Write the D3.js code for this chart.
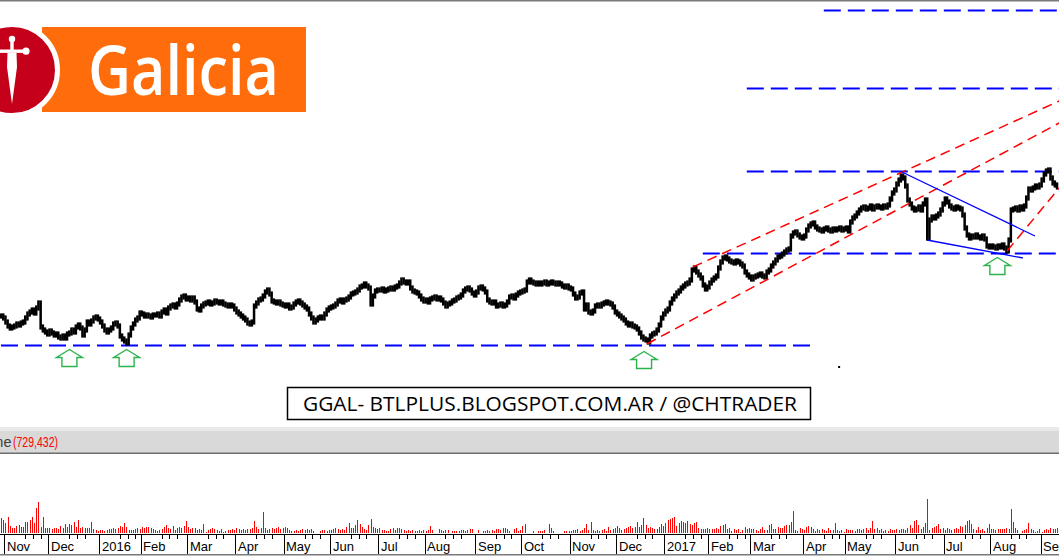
<!DOCTYPE html>
<meta charset="utf-8">
<style>
body { margin: 0; background: #fff; }
svg { display: block; }
.axis text { font: 13px "Liberation Sans", Arial, sans-serif; fill: #000; }
</style>
<svg width="1059" height="556"></svg>
<script src="https://cdn.jsdelivr.net/npm/d3@7"></script>
<script>

// daily closes, Oct 2015 - Sep 2017
var closes = [
  32.9,32.7,32.3,31.9,31.7,31.8,31.9,32.1,32.0,32.2,
  32.3,32.7,33.1,33.3,33.5,33.2,33.7,34.2,31.8,31.5,
  31.3,31.1,31.4,31.2,31.0,31.1,30.8,30.7,30.9,30.7,
  31.1,31.2,31.5,31.3,31.8,32.0,31.7,31.0,31.5,32.3,
  32.1,32.4,32.7,32.8,32.6,32.3,31.9,31.5,31.3,31.5,
  31.7,32.1,32.2,31.9,30.9,30.6,30.4,30.2,31.0,31.7,
  32.1,32.5,32.7,33.2,33.1,32.9,33.0,32.9,32.8,33.0,
  33.0,33.1,32.9,33.3,33.5,33.2,33.7,33.9,34.0,33.8,
  34.1,34.5,34.8,34.9,34.6,34.7,34.5,34.7,34.3,33.6,
  33.5,33.9,34.1,34.2,34.3,34.1,34.2,34.4,34.3,34.2,
  34.3,34.1,34.0,33.9,34.0,33.9,33.6,33.3,33.1,32.9,
  32.7,32.5,32.2,32.1,32.3,33.9,34.2,34.5,34.6,34.9,
  35.3,35.5,35.1,34.4,34.3,34.2,34.3,34.1,34.0,33.9,
  34.0,33.7,33.8,34.1,34.3,34.4,34.2,34.0,33.8,33.6,
  33.1,32.7,32.3,32.5,32.7,32.8,32.7,33.1,33.5,33.7,
  33.8,33.9,34.1,34.4,34.5,34.3,34.5,34.6,34.8,35.1,
  35.2,35.3,35.5,35.8,35.9,36.1,35.9,35.7,34.1,34.9,
  35.4,35.5,35.5,35.6,35.4,35.5,35.6,35.7,35.6,35.8,
  35.9,36.2,36.5,36.3,36.2,36.3,35.7,35.4,35.3,35.2,
  34.9,34.6,34.4,34.5,34.3,34.6,34.7,34.8,34.6,34.7,
  34.5,34.2,33.9,34.1,34.2,34.4,34.5,34.7,34.8,35.0,
  35.4,35.6,35.7,35.5,35.2,35.0,35.3,35.7,35.8,35.6,
  35.3,34.5,34.3,34.2,34.3,33.9,34.0,34.1,33.9,34.0,
  34.3,34.8,34.9,34.7,35.0,35.2,35.3,35.4,35.5,36.3,
  36.5,36.3,36.2,36.1,36.2,36.1,36.2,36.3,36.1,36.2,
  36.3,36.2,36.1,36.2,36.1,35.9,35.8,35.9,35.7,35.6,
  35.1,34.7,34.8,35.2,35.3,33.6,34.0,33.3,33.2,33.4,
  33.9,34.0,33.9,34.1,34.2,34.3,34.2,34.1,33.8,33.3,
  33.1,32.9,32.7,32.5,32.2,32.0,32.1,31.9,31.8,31.6,
  31.2,30.8,30.6,30.5,30.3,30.9,31.1,31.2,31.5,32.0,
  32.7,33.1,33.4,33.6,34.2,34.6,34.9,35.2,35.4,35.7,
  35.9,36.1,36.2,36.5,37.5,37.7,37.3,37.0,36.7,36.0,
  35.6,35.8,36.2,36.5,36.7,36.9,37.7,38.3,38.7,38.8,
  38.6,38.4,38.3,38.2,38.4,38.3,38.1,37.9,37.3,37.0,
  36.8,36.6,36.8,36.9,37.0,37.1,36.9,36.8,37.3,37.5,
  37.9,38.2,38.5,38.8,38.9,39.1,39.3,39.5,39.6,40.9,
  41.2,41.3,41.0,40.8,40.7,40.9,41.5,41.9,42.1,42.2,
  41.8,41.6,41.5,41.4,41.6,41.7,41.5,41.4,41.6,41.5,
  41.6,41.7,41.5,41.6,41.7,41.4,42.3,42.7,42.9,43.2,
  43.5,43.7,43.8,43.6,43.7,43.9,43.6,43.8,43.9,43.8,
  43.7,43.9,43.8,44.0,44.6,45.2,45.5,46.1,46.5,46.9,
  46.7,45.9,44.5,44.1,43.7,43.5,43.6,43.8,43.5,44.1,
  44.5,40.7,42.5,42.8,42.7,42.9,43.1,43.5,44.1,44.6,
  44.3,43.9,43.7,43.6,43.8,43.7,43.6,43.0,41.7,41.0,
  40.7,40.9,40.8,41.0,40.8,40.7,40.9,40.6,39.9,39.8,
  39.9,39.8,39.7,39.9,39.8,40.0,39.7,39.4,40.5,43.5,
  43.6,43.7,43.5,43.8,43.6,43.9,44.7,45.6,45.5,45.7,
  45.9,45.8,46.0,46.5,47.1,47.4,47.5,46.7,46.2,46.0,
  45.8
];

// daily volume, thousands of shares
var volumes = [
  2250,1950,1500,2400,1050,750,750,1050,1200,900,
  900,1650,1650,1950,2400,1500,3750,4650,900,2400,
  750,750,750,600,750,750,600,1050,750,1350,
  900,1350,1200,1650,900,1950,750,900,750,750,
  750,1650,600,450,300,450,450,300,450,600,
  600,750,600,750,1050,900,1500,900,450,450,
  450,600,750,600,900,750,900,900,750,600,
  450,300,450,600,900,1200,750,600,1050,450,
  750,900,750,1050,1800,900,600,750,750,450,
  600,450,1350,150,450,600,750,600,450,300,
  600,150,300,450,450,600,450,750,600,450,
  600,450,600,600,750,1800,900,600,750,3150,
  750,450,600,750,600,750,900,600,750,900,
  750,450,300,300,450,300,450,600,450,600,
  450,600,300,0,0,300,450,450,300,450,
  450,600,750,600,450,600,450,900,1500,750,
  750,1200,1950,1350,900,600,450,1200,2100,900,
  750,600,750,450,450,300,300,600,750,450,
  750,750,600,450,300,450,300,450,300,300,
  450,300,450,300,450,1050,450,0,0,600,
  450,300,450,450,0,300,300,300,300,450,
  450,300,450,600,600,0,0,450,0,300,
  300,450,300,450,300,600,600,450,750,750,
  600,300,0,600,750,300,450,1050,1350,0,
  0,0,300,0,300,300,300,450,0,1350,
  750,300,0,0,0,0,300,300,300,300,
  450,450,600,300,450,750,1350,450,1650,450,
  300,450,300,450,600,300,900,450,600,750,
  1050,750,450,600,750,900,1050,750,900,1650,
  900,1200,2250,1200,750,900,750,600,600,900,
  1350,1050,1500,1950,2100,2250,2400,1050,1500,1800,
  1650,1500,1800,1350,1200,1500,1650,750,600,600,
  600,750,600,600,600,750,600,1050,1200,1350,
  600,750,300,600,450,600,150,450,900,600,
  750,600,600,450,300,600,900,450,450,1200,
  1350,600,600,900,750,750,1050,1200,1200,1650,
  3300,450,300,750,600,450,900,1050,900,600,
  300,600,450,600,450,300,750,450,450,1500,
  450,300,450,150,600,450,450,450,300,600,
  600,450,600,750,450,750,1800,600,750,450,
  600,300,450,300,600,450,450,600,450,600,
  600,450,750,1200,750,1800,1950,1200,600,900,
  1500,5100,450,750,900,1050,1350,600,750,450,
  750,600,450,600,750,600,1050,900,1200,1800,
  1950,1350,600,450,900,450,600,300,750,1350,
  600,600,450,600,600,600,600,750,600,3600,
  1650,750,450,0,300,450,600,1500,600,450,
  150,300,600,150,450,600,450,750,600,600,
  729.432
];

var monthLabels = ["Nov","Dec","2016","Feb","Mar","Apr","May","Jun","Jul","Aug","Sep","Oct",
                   "Nov","Dec","2017","Feb","Mar","Apr","May","Jun","Jul","Aug","Sep"];
var monthStarts = [2,22,45,64,85,107,129,150,172,193,216,237,259,280,302,322,341,365,384,407,429,450,473];

// horizontal support / resistance levels: price, first bar, last bar
var levelPrices = [30.0, 39.2, 47.4, 55.7, 63.5];
var levelFrom   = [0, 319, 339, 339, 374];
var levelTo     = [369, 481, 481, 481, 481];

// trend lines: [bar0, price0, bar1, price1]
var redLines  = [[314.5, 37.8, 481, 54.4], [293.6, 30.1, 481, 52.2], [457.3, 39.4, 481, 45.7]];
var blueLines = [[409.5, 47.3, 470, 40.9], [420.9, 40.5, 464.5, 38.7]];

// up arrows under the lows: bar, price of the tip
var arrowBars   = [31.1, 57.1, 292.3, 452.9];
var arrowPrices = [29.55, 29.55, 29.35, 38.75];

var svg = d3.select("svg");

var x  = d3.scaleLinear().domain([0, 480]).range([1, 1057]);
var y  = d3.scaleLinear().domain([30, 64.5]).range([345, 0]);
var yv = d3.scaleLinear().domain([0, 11700]).range([533, 455]);

// top frame line
svg.append("rect").attr("x", 0).attr("y", 0).attr("width", 1059).attr("height", 1.5).attr("fill", "#7a7a7a");

// dashed levels
svg.append("g").selectAll("line")
  .data(levelPrices)
  .join("line")
    .attr("x1", function(d, i) { return x(levelFrom[i]); })
    .attr("x2", function(d, i) { return x(levelTo[i]); })
    .attr("y1", function(d) { return Math.round(y(d)) + 0.5; })
    .attr("y2", function(d) { return Math.round(y(d)) + 0.5; })
    .attr("stroke", "#0000ff")
    .attr("stroke-width", 2)
    .attr("stroke-dasharray", "17,7");

// price bars
svg.append("g").selectAll("rect")
  .data(closes)
  .join("rect")
    .attr("x", function(d, i) { return x(i) - 1.2; })
    .attr("width", 2.5)
    .attr("y", function(d, i) {
      var o = i ? closes[i - 1] : d;
      return Math.min(y(o), y(d)) - 2.6;
    })
    .attr("height", function(d, i) {
      var o = i ? closes[i - 1] : d;
      return Math.abs(y(o) - y(d)) + 5.2;
    })
    .attr("fill", "#000");

// red trend lines
svg.append("g").selectAll("line")
  .data(redLines)
  .join("line")
    .attr("x1", function(d) { return x(d[0]); })
    .attr("y1", function(d) { return y(d[1]); })
    .attr("x2", function(d) { return x(d[2]); })
    .attr("y2", function(d) { return y(d[3]); })
    .attr("stroke", "#ff0000")
    .attr("stroke-width", 1.5)
    .attr("stroke-dasharray", "10,6");

// blue wedge
svg.append("g").selectAll("line")
  .data(blueLines)
  .join("line")
    .attr("x1", function(d) { return x(d[0]); })
    .attr("y1", function(d) { return y(d[1]); })
    .attr("x2", function(d) { return x(d[2]); })
    .attr("y2", function(d) { return y(d[3]); })
    .attr("stroke", "#0000ff")
    .attr("stroke-width", 1.3);

// green arrows
svg.append("g").selectAll("path")
  .data(arrowBars)
  .join("path")
    .attr("d", function(d, i) {
      var cx = x(d), ty = y(arrowPrices[i]);
      return "M" + cx + "," + ty + " l13,8 h-5.5 v9 h-15 v-9 h-5.5 z";
    })
    .attr("fill", "#fff")
    .attr("stroke", "#2bb24c")
    .attr("stroke-width", 1.4);

// stray dot
svg.append("rect").attr("x", x(380.5)).attr("y", y(27.9)).attr("width", 2).attr("height", 2).attr("fill", "#000");

// logo
var logo = svg.append("g");
logo.append("rect").attr("x", 42).attr("y", 27).attr("width", 264).attr("height", 85).attr("fill", "#fe6c0b");
logo.append("circle").attr("cx", 12).attr("cy", 70).attr("r", 45.5).attr("fill", "#c4001a")
    .attr("stroke", "#fff").attr("stroke-width", 5);
logo.append("circle").attr("cx", 12).attr("cy", 39).attr("r", 3.2).attr("fill", "#fff");
logo.append("rect").attr("x", 10.3).attr("y", 40).attr("width", 3.4).attr("height", 12).attr("fill", "#fff");
logo.append("rect").attr("x", -4).attr("y", 49.5).attr("width", 30).attr("height", 3.4).attr("fill", "#fff");
logo.append("circle").attr("cx", 26).attr("cy", 51.2).attr("r", 3.6).attr("fill", "#fff");
logo.append("path").attr("d", "M7.5,53 L16.5,53 L17,67 L12,104 L7,67 Z").attr("fill", "#fff");
logo.append("text")
    .attr("x", 88).attr("y", 95)
    .attr("textLength", 191).attr("lengthAdjust", "spacingAndGlyphs")
    .style("font", "600 68px 'Open Sans', sans-serif")
    .attr("fill", "#fff")
    .text("Galicia");

// caption box
svg.append("rect").attr("x", 287.5).attr("y", 387.5).attr("width", 523).attr("height", 32)
    .attr("fill", "#fff").attr("stroke", "#000").attr("stroke-width", 1.5);
svg.append("text")
    .attr("x", 303).attr("y", 411)
    .attr("textLength", 494).attr("lengthAdjust", "spacingAndGlyphs")
    .style("font", "19.5px 'Open Sans', sans-serif")
    .attr("fill", "#000")
    .text("GGAL- BTLPLUS.BLOGSPOT.COM.AR / @CHTRADER");

// volume pane header
svg.append("rect").attr("x", 0).attr("y", 427).attr("width", 1059).attr("height", 4).attr("fill", "#e9e9e9");
svg.append("rect").attr("x", 0).attr("y", 431).attr("width", 1059).attr("height", 22).attr("fill", "#d9d9d9");
svg.append("rect").attr("x", 0).attr("y", 452.5).attr("width", 1059).attr("height", 1.5).attr("fill", "#6e6e6e");
svg.append("text").attr("x", 11.5).attr("y", 446.5).attr("text-anchor", "end")
    .style("font", "14.5px 'Liberation Sans', sans-serif").attr("fill", "#3c3c3c").text("Volume");
svg.append("text").attr("x", 13).attr("y", 446.5)
    .attr("textLength", 45).attr("lengthAdjust", "spacingAndGlyphs")
    .style("font", "14.5px 'Liberation Sans', sans-serif").attr("fill", "#ff0000")
    .text("(" + d3.format(",")(Math.round(volumes[volumes.length - 1] * 1000)) + ")");

// volume bars
svg.append("g").selectAll("rect")
  .data(volumes)
  .join("rect")
    .attr("x", function(d, i) { return Math.round(x(i)); })
    .attr("width", 1)
    .attr("y", function(d) { return yv(d); })
    .attr("height", function(d) { return yv(0) - yv(d); })
    .attr("fill", "#ff0000")
    .attr("shape-rendering", "crispEdges");

// time axis
var axis = svg.append("g").attr("class", "axis");
axis.append("rect").attr("x", 0).attr("y", 534).attr("width", 1059).attr("height", 1).attr("fill", "#000");
axis.append("rect").attr("x", 0).attr("y", 554).attr("width", 1059).attr("height", 1.5).attr("fill", "#7a7a7a");

var minor = [];
monthStarts.forEach(function(m) { [9, 12.5, 16].forEach(function(k) { minor.push(m + k); }); });
axis.selectAll(".minor")
  .data(minor.filter(function(d) { return d < 481; }))
  .join("rect")
    .attr("class", "minor")
    .attr("x", function(d) { return Math.round(x(d)); })
    .attr("y", 534).attr("width", 1).attr("height", 5).attr("fill", "#000");

axis.selectAll(".major")
  .data(monthStarts)
  .join("rect")
    .attr("class", "major")
    .attr("x", function(d) { return Math.round(x(d) - 1); })
    .attr("y", 534).attr("width", 1).attr("height", 20).attr("fill", "#000");

axis.selectAll(".lbl")
  .data(monthLabels)
  .join("text")
    .attr("class", "lbl")
    .attr("x", function(d, i) { return Math.round(x(monthStarts[i]) + 1.5); })
    .attr("y", 551)
    .text(function(d) { return d; });

</script>
